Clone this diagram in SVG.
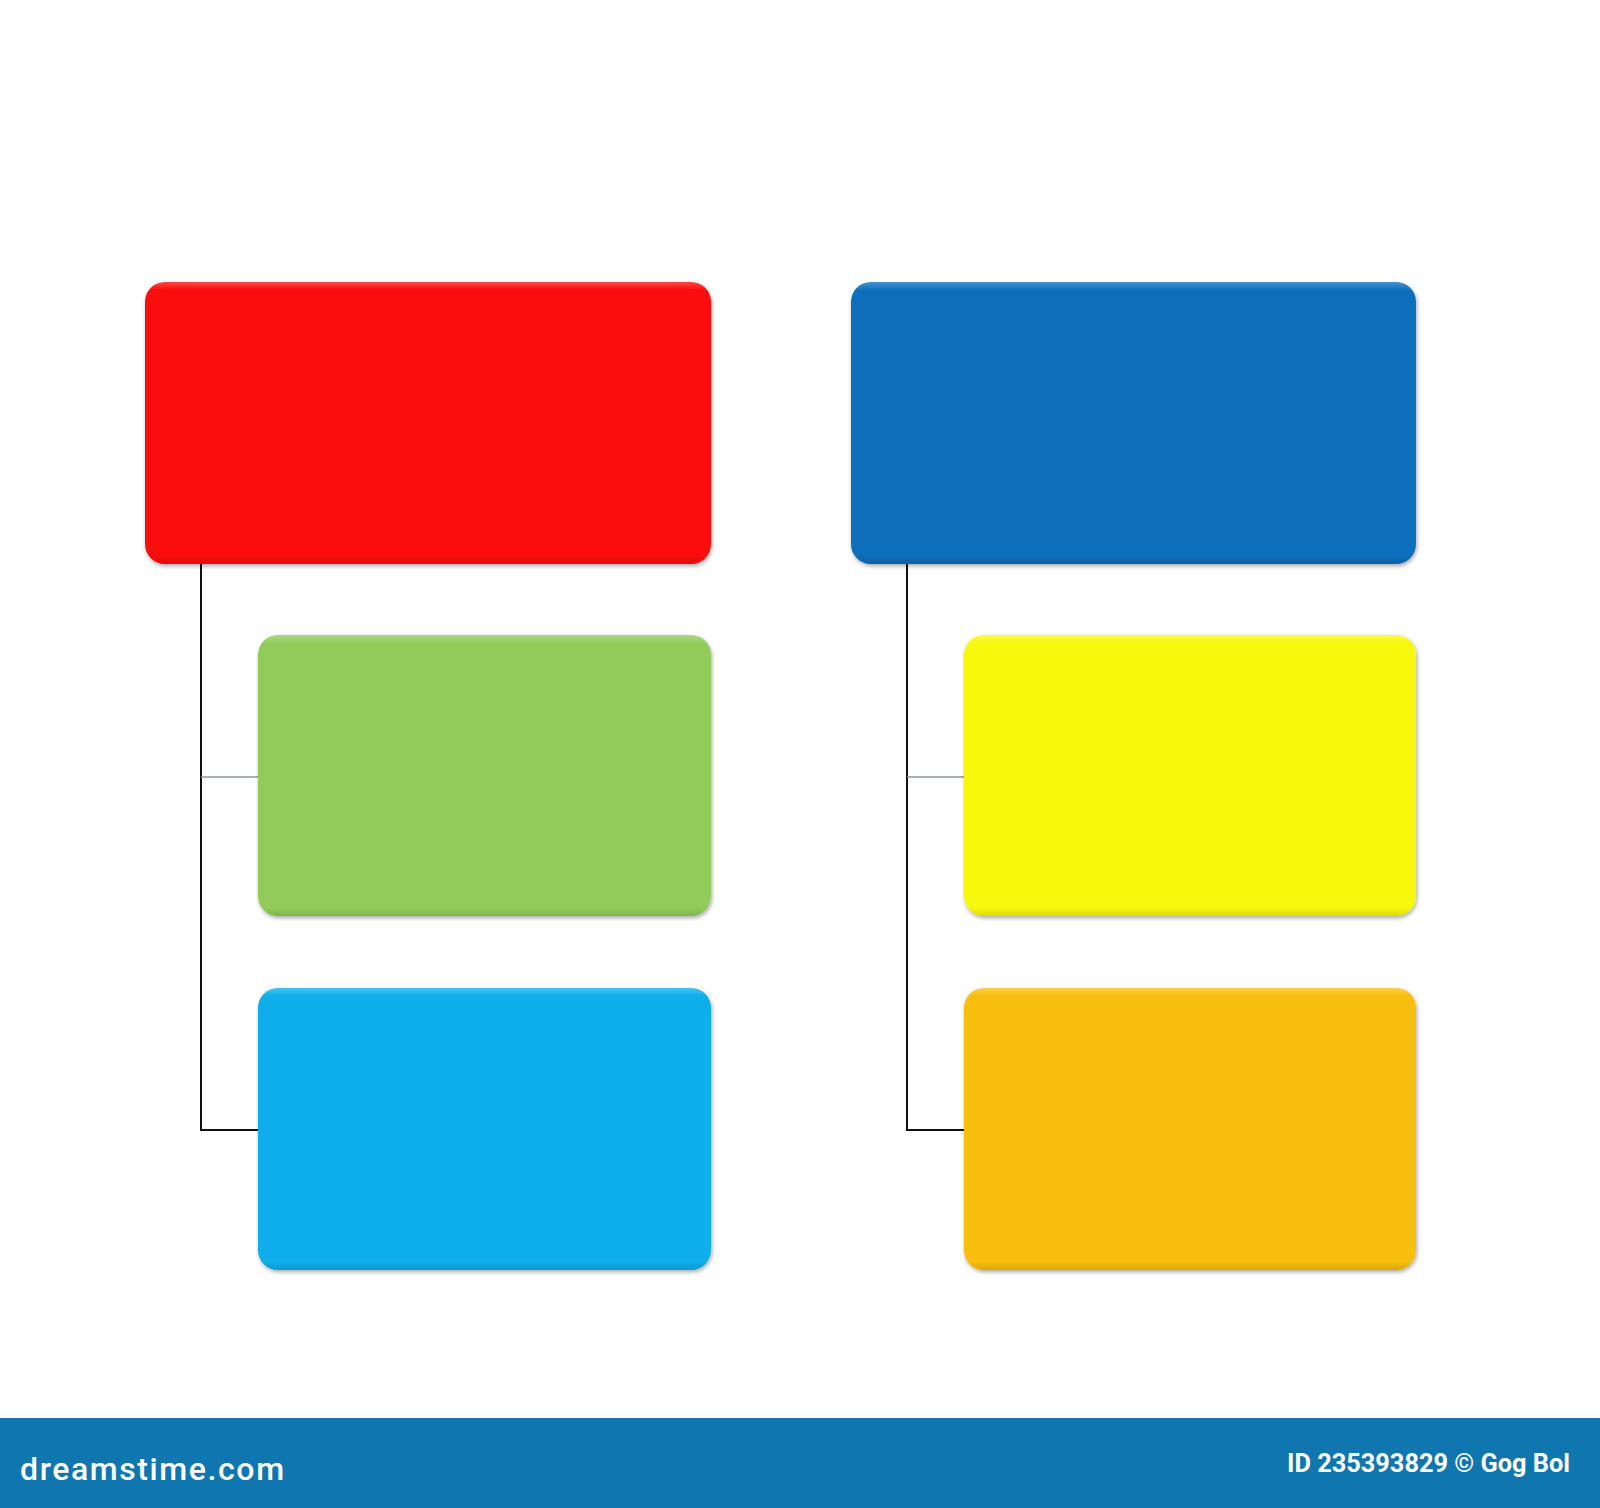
<svg xmlns="http://www.w3.org/2000/svg" width="1600" height="1508" viewBox="0 0 1600 1508">
<defs>
<filter id="sh" x="-5%" y="-5%" width="110%" height="115%">
<feGaussianBlur in="SourceAlpha" stdDeviation="2"/>
<feOffset dx="1" dy="2"/>
<feComponentTransfer><feFuncA type="linear" slope="0.35"/></feComponentTransfer>
<feMerge><feMergeNode/><feMergeNode in="SourceGraphic"/></feMerge>
</filter>
<linearGradient id="gl" x1="0" y1="0" x2="0" y2="1">
<stop offset="0" stop-color="#fff" stop-opacity="0.25"/>
<stop offset="0.03" stop-color="#fff" stop-opacity="0"/>
<stop offset="0.97" stop-color="#000" stop-opacity="0"/>
<stop offset="1" stop-color="#000" stop-opacity="0.12"/>
</linearGradient>
</defs>
<style>
.box{filter:url(#sh)}
.gl{fill:url(#gl)}
.c{fill:none;stroke:#111;stroke-width:2}
.cg{fill:none;stroke:#8a949c;stroke-width:1.5}
.ft{font-family:Roboto,"Liberation Sans",sans-serif;fill:#fff}
</style>
<rect width="1600" height="1508" fill="#fff"/>
<g id="connectors">
<path class="c" d="M201 564 V1130 H258"/>
<path class="cg" d="M201 777 H258"/>
<path class="c" d="M907 564 V1130 H964"/>
<path class="cg" d="M907 777 H964"/>
</g>
<g id="red" class="box"><rect x="145" y="282" width="566" height="282" rx="20" fill="#fc0a0a"/><rect x="145" y="282" width="566" height="282" rx="20" class="gl"/></g>
<g id="blue" class="box"><rect x="851" y="282" width="565" height="282" rx="20" fill="#0b6ebb"/><rect x="851" y="282" width="565" height="282" rx="20" class="gl"/></g>
<g id="green" class="box"><rect x="258" y="635" width="453" height="281" rx="20" fill="#92cb5a"/><rect x="258" y="635" width="453" height="281" rx="20" class="gl"/></g>
<g id="yellow" class="box"><rect x="964" y="635" width="452" height="281" rx="20" fill="#f8f80c"/><rect x="964" y="635" width="452" height="281" rx="20" class="gl"/></g>
<g id="cyan" class="box"><rect x="258" y="988" width="453" height="282" rx="20" fill="#0aaeea"/><rect x="258" y="988" width="453" height="282" rx="20" class="gl"/></g>
<g id="orange" class="box"><rect x="964" y="988" width="452" height="282" rx="20" fill="#f8be0c"/><rect x="964" y="988" width="452" height="282" rx="20" class="gl"/></g>
<g id="footer">
<rect x="0" y="1418" width="1600" height="90" fill="#1076b0"/>
<text class="ft" x="20" y="1480" font-size="32" font-weight="500" textLength="264" lengthAdjust="spacing">dreamstime.com</text>
<text class="ft" x="1287" y="1472" font-size="25" font-weight="bold" textLength="283" lengthAdjust="spacingAndGlyphs">ID 235393829 © Gog Bol</text>
</g>
</svg>
